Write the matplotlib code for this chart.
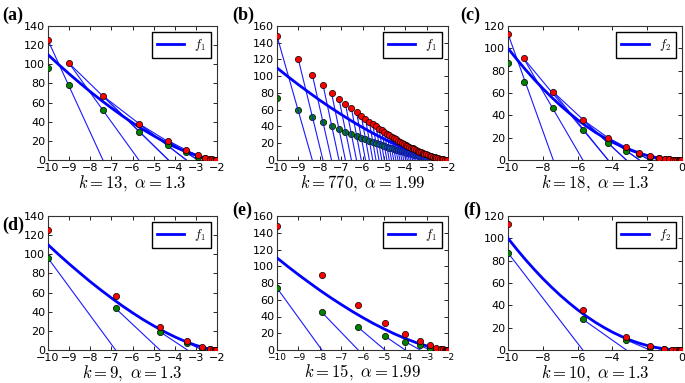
import matplotlib
matplotlib.use("Agg")
import matplotlib.pyplot as plt
from matplotlib.lines import Line2D

plt.rcParams["mathtext.fontset"] = "cm"
plt.rcParams["font.family"] = "DejaVu Sans"

# model curves
f1_x = [-10, -9.5, -9, -8.5, -8, -7.5, -7, -6.5, -6, -5.5, -5, -4.5, -4, -3.5, -3, -2.5, -2]
f1_y = [110, 99.8, 90, 80.6, 71.4, 62.7, 54.4, 46.4, 38.9, 31.8, 25.3, 19.2, 13.75, 8.9, 4.9, 1.7, 0]
f2_x = [-10, -9.5, -9, -8.5, -8, -7.5, -7, -6.5, -6, -5.5, -5, -4.5, -4, -3.5, -3, -2.5, -2, -1.5, -1, -0.5, 0]
f2_y = [100, 90.3, 81, 72.3, 64, 56.3, 49, 42.3, 36, 30.3, 25, 20.3, 16, 12.3, 9, 6.3, 4, 2.3, 1, 0.3, 0]

# (a) k = 13, alpha = 1.3
a_x = [-10, -9, -7.4, -5.7, -4.3, -3.45, -2.9, -2.55, -2.35, -2.22, -2.13, -2.07, -2.03]
a_red = [125, 101, 67, 38, 20, 10, 5, 2.5, 1.2, 0.6, 0.3, 0.15, 0.05]
a_green = [96, 78, 52, 29, 15.5, 8, 3.6, 1.8, 0.9, 0.45, 0.22, 0.1, 0.04]

# (b) k = 770, alpha = 1.99 (visible part of the iterates)
b_x = [-10, -9, -8.35, -7.85, -7.45, -7.1, -6.8, -6.52, -6.28, -6.06, -5.86, -5.68, -5.52,
       -5.37, -5.23, -5.10, -4.98, -4.86, -4.75, -4.64, -4.54, -4.44, -4.34, -4.25, -4.16,
       -4.07, -3.98, -3.90, -3.82, -3.74, -3.66, -3.58, -3.50, -3.42, -3.34, -3.26, -3.18,
       -3.10, -3.02, -2.94, -2.86, -2.78, -2.70, -2.62, -2.54, -2.46, -2.38, -2.30, -2.22,
       -2.14, -2.06]
b_red = [148, 120, 102, 90, 80, 73, 67, 62, 57, 53, 49, 45.5, 42.5,
         40, 37.5, 35.3, 33.2, 31.2, 29.5, 27.8, 26.2, 24.6, 23.1, 21.8, 20.5,
         19.2, 18.0, 16.9, 15.9, 14.8, 13.8, 12.8, 11.8, 10.9, 10.0, 9.1, 8.3,
         7.4, 6.6, 5.9, 5.1, 4.4, 3.8, 3.1, 2.55, 2.0, 1.5, 1.05, 0.66,
         0.34, 0.1]
b_green = [74, 60, 51, 45, 40, 36.7, 33.7, 31.2, 28.6, 26.6, 24.6, 22.9, 21.4,
           20.1, 18.8, 17.7, 16.7, 15.7, 14.8, 14.0, 13.2, 12.4, 11.6, 11.0, 10.3,
           9.6, 9.0, 8.5, 8.0, 7.4, 6.9, 6.4, 5.9, 5.5, 5.0, 4.6, 4.2,
           3.7, 3.3, 3.0, 2.6, 2.2, 1.9, 1.6, 1.3, 1.0, 0.75, 0.53, 0.33,
           0.17, 0.05]

# (c) k = 18, alpha = 1.3
c_x = [-10, -9.1, -7.4, -5.7, -4.25, -3.2, -2.45, -1.85, -1.35, -1.0, -0.72, -0.52,
       -0.38, -0.27, -0.19, -0.13, -0.09, -0.06]
c_red = [113, 91, 61, 36, 20, 11.5, 6.5, 3.8, 2.1, 1.1, 0.6, 0.3, 0.16, 0.08, 0.04, 0.02, 0.01, 0.004]
c_green = [87, 70, 47, 27, 15.5, 8.5, 5, 3, 1.6, 0.87, 0.45, 0.24, 0.12, 0.06, 0.03, 0.015, 0.007, 0.003]

# (d) k = 9, alpha = 1.3
d_x = [-10, -6.8, -4.7, -3.4, -2.7, -2.35, -2.17, -2.08, -2.04]
d_red = [125, 56, 24.5, 9.5, 3.3, 1.14, 0.39, 0.13, 0.04]
d_green = [96, 43.5, 19, 7.5, 2.5, 0.87, 0.3, 0.1, 0.03]

# (e) k = 15, alpha = 1.99
e_x = [-10, -7.9, -6.2, -4.95, -4.0, -3.3, -2.85, -2.55, -2.35, -2.22, -2.13, -2.08, -2.05, -2.03, -2.02]
e_red = [148, 90, 54, 32.5, 19, 10.5, 5.5, 2.8, 1.4, 0.7, 0.3, 0.15, 0.08, 0.04, 0.02]
e_green = [74, 45, 27, 16.5, 10, 5.5, 2.7, 1.4, 0.7, 0.35, 0.15, 0.08, 0.04, 0.02, 0.01]

# (f) k = 10, alpha = 1.3
f_x = [-10, -5.7, -3.2, -1.85, -1.05, -0.6, -0.35, -0.2, -0.11, -0.06]
f_red = [113, 36, 11.5, 3.9, 1.25, 0.4, 0.14, 0.045, 0.014, 0.004]
f_green = [87, 27.5, 9, 3, 0.96, 0.31, 0.1, 0.035, 0.01, 0.003]

panels = [
    ("(a)", a_x, a_red, a_green, "f1", "red", r"$k=13,\ \alpha=1.3$"),
    ("(b)", b_x, b_red, b_green, "f1", "red", r"$k=770,\ \alpha=1.99$"),
    ("(c)", c_x, c_red, c_green, "f2", "red", r"$k=18,\ \alpha=1.3$"),
    ("(d)", d_x, d_red, d_green, "f1", "green", r"$k=9,\ \alpha=1.3$"),
    ("(e)", e_x, e_red, e_green, "f1", "green", r"$k=15,\ \alpha=1.99$"),
    ("(f)", f_x, f_red, f_green, "f2", "green", r"$k=10,\ \alpha=1.3$"),
]

W, H = 685, 383
boxes = [(48, 26, 169, 134), (277, 26, 171, 134), (508, 26, 174, 134),
         (48, 216, 169, 134), (277, 216, 171, 134), (508, 216, 174, 134)]
letter_pos = [(2, 15), (232, 15), (460, 15), (2, 225), (232, 210), (463, 210)]

fig = plt.figure(figsize=(W / 100, H / 100), dpi=100)

for idx, (tag, xs, red, green, fname, mode, label) in enumerate(panels):
    x0, y0, w, h = boxes[idx]
    ax = fig.add_axes([x0 / W, 1 - (y0 + h) / H, w / W, h / H])
    n = len(xs)
    line_kw = dict(color="#1a1aff", lw=0.8, zorder=2)
    if mode == "red":
        for i in range(n):
            j = min(i + 2, n - 1)
            ax.plot([xs[i], xs[j]], [red[i], 0], **line_kw)
            if idx != 1 and i >= 1:
                j = min(i + 3, n - 1)
                ax.plot([xs[i], xs[j]], [red[i], 0], **line_kw)
    else:
        for i in range(n):
            j = min(i + 1, n - 1)
            ax.plot([xs[i], xs[j]], [green[i], 0], **line_kw)

    if fname == "f1":
        ax.plot(f1_x, f1_y, color="blue", lw=2, zorder=3)
        ax.set_xlim(-10, -2)
        ax.set_xticks(range(-10, -1))
        ymax = 160 if idx in (1, 4) else 140
    else:
        ax.plot(f2_x, f2_y, color="blue", lw=2, zorder=3)
        ax.set_xlim(-10, 0)
        ax.set_xticks(range(-10, 1, 2))
        ymax = 120
    ax.set_ylim(0, ymax)
    ax.set_yticks(range(0, ymax + 1, 20))

    gz = 1.5 if idx == 1 else 4
    ax.plot(xs, green, "o", color="green", mec="black", mew=0.5, ms=4.5, zorder=gz)
    ax.plot(xs, red, "o", color="red", mec="black", mew=0.5, ms=4.5, zorder=5)

    ax.tick_params(direction="in", top=True, right=True, length=3, width=0.6,
                   labelsize=8, pad=2)
    if idx == 4:
        ax.tick_params(axis="x", labelsize=6.5)
    for sp in ax.spines.values():
        sp.set_linewidth(0.8)
        sp.set_color("#333333")

    handle = Line2D([], [], color="blue", lw=2)
    name = r"$f_1$" if fname == "f1" else r"$f_2$"
    ax.legend([handle], [name], loc="upper right", fancybox=False, edgecolor="black",
              framealpha=1, fontsize=9, handlelength=2.2, borderpad=0.4,
              borderaxespad=0.5)

    ax.set_xlabel(label, fontsize=12, labelpad=0)
    lx, ly = letter_pos[idx]
    fig.text(lx / W, 1 - ly / H, tag, fontsize=13, fontweight="bold",
             family="Liberation Serif", va="center", ha="left")

fig.savefig("out.png", dpi=100)
